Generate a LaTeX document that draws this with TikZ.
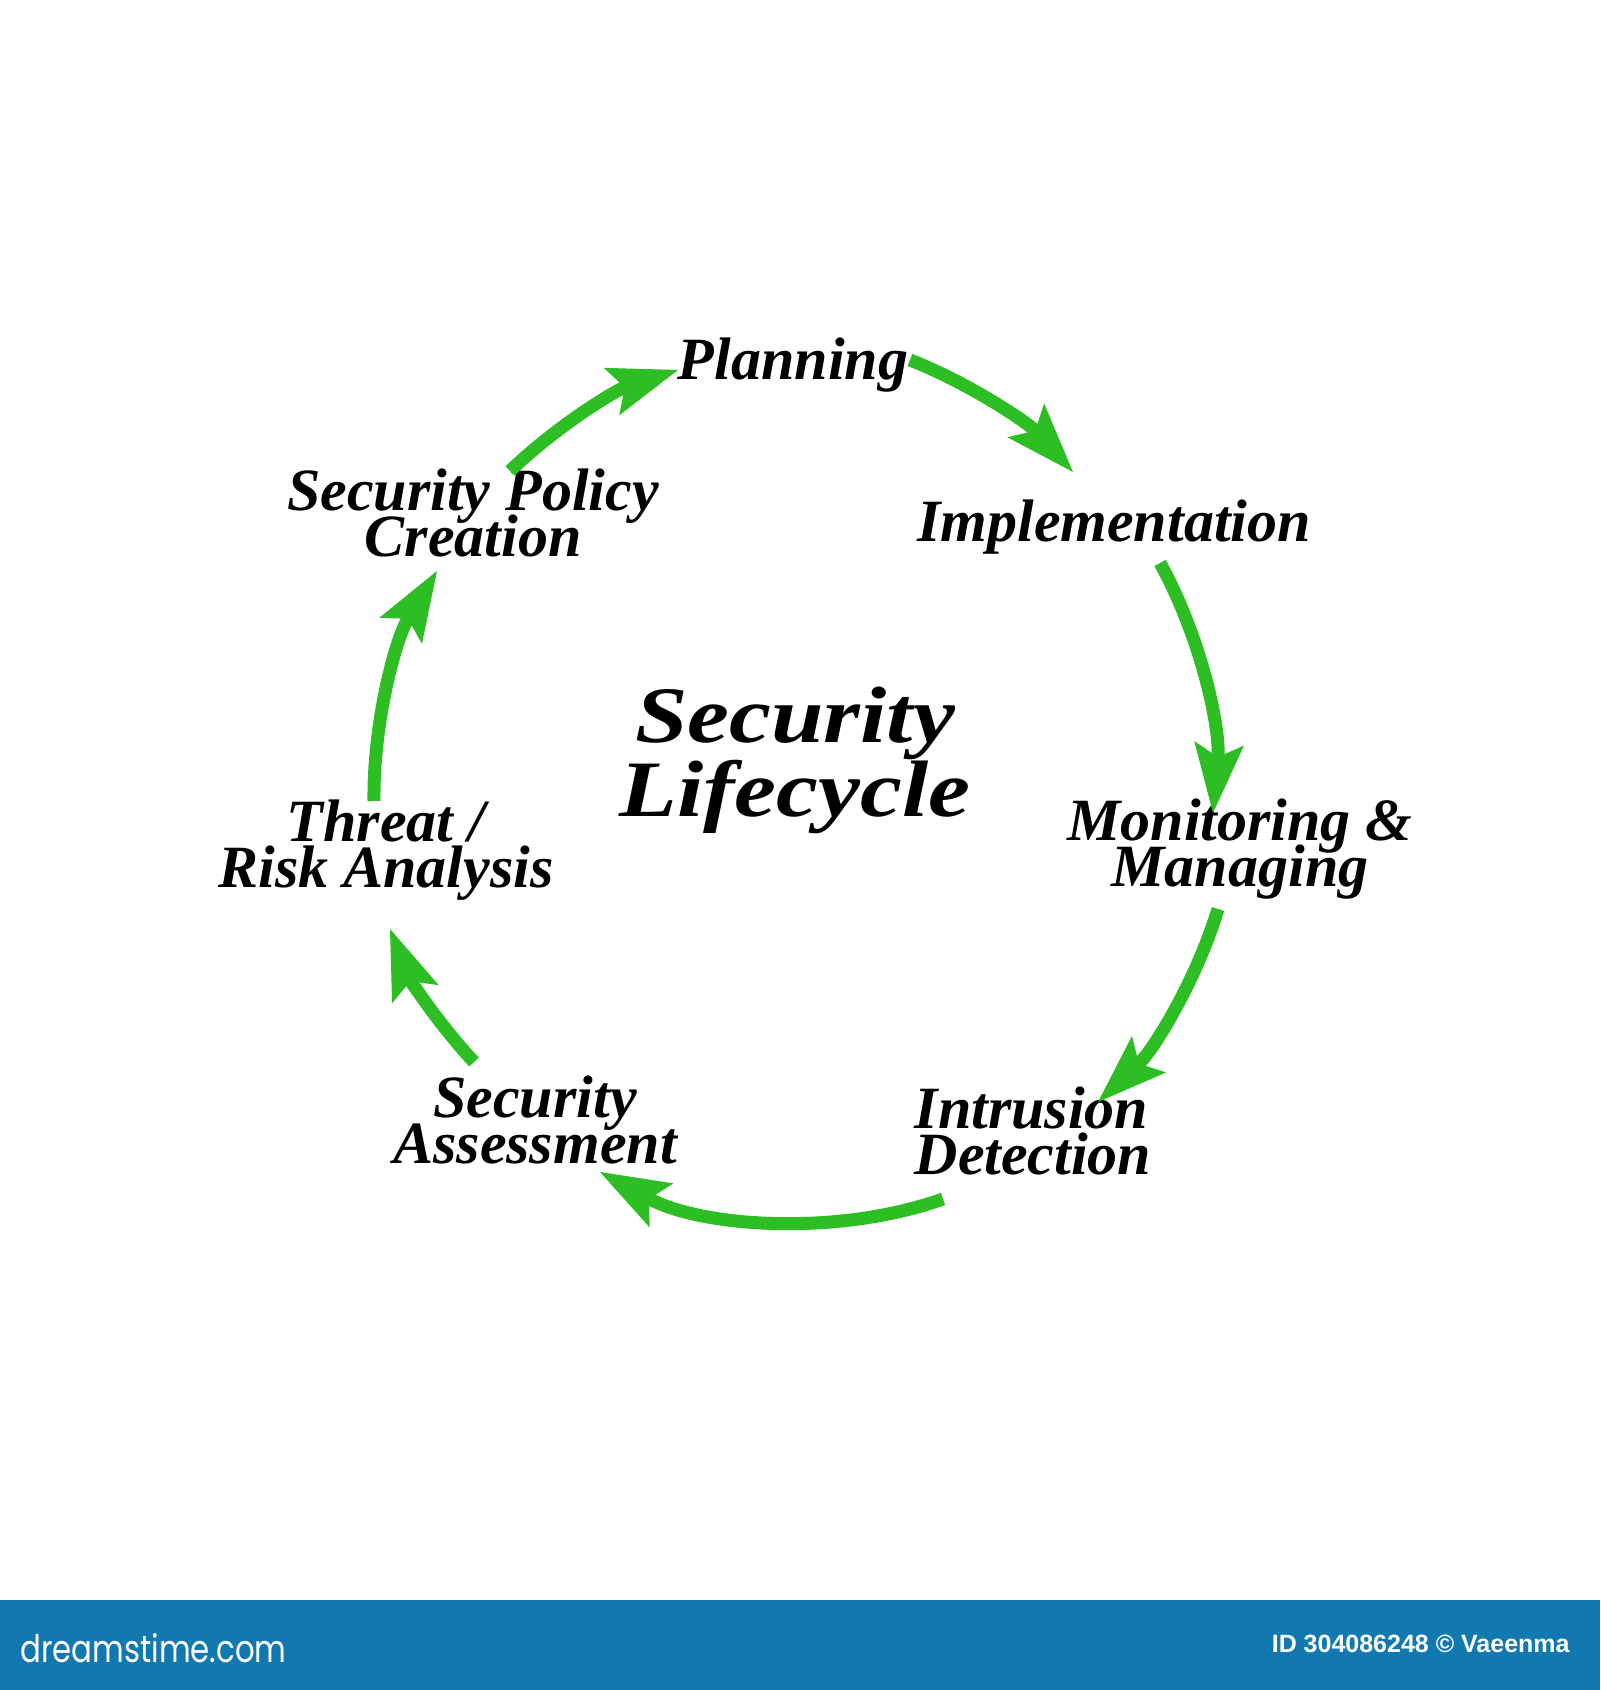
\documentclass[tikz,border=0pt]{standalone}
\usepackage{fontspec}
\setmainfont{Liberation Serif}
\newfontfamily\titlefont[FakeStretch=1.18]{Liberation Serif}
\newfontfamily\dsfont[FakeStretch=0.81]{Poppins}
\newfontfamily\idfont{Liberation Sans}
\usetikzlibrary{arrows.meta}
\definecolor{arrgreen}{RGB}{45,190,35}
\definecolor{barblue}{RGB}{17,121,176}
\newcommand\tightlines{\lineskiplimit=-50pt\relax\lineskip=0pt\relax}
\begin{document}
\begin{tikzpicture}[x=0.5pt,y=0.5pt,
  lab/.style={font={\fontsize{30}{23}\selectfont\bfseries\itshape\tightlines}, inner sep=0pt, align=center, anchor=base},
  arr/.style={draw=arrgreen, line width=6.5pt, looseness=0.85,
    -{Stealth[length=35pt,width=25pt,inset=7pt,line width=0pt]}}
]
\useasboundingbox (0,0) rectangle (1600,1690);
\fill[white] (0,0) rectangle (1600,1690);

% labels (base = baseline of the last line)
\node[lab] (plan) at (793,1310) {Planning};
\node[lab] (impl) at (1114,1148) {Implementation};
\node[lab] (mon)  at (1240,803) {Monitoring \&\\Managing};
\node[lab, align=left] (intr) at (1033,515) {Intrusion\\Detection};
\node[lab] (sass) at (535,526) {Security\\Assessment};
\node[lab] (thr)  at (386,802) {Threat /\\Risk Analysis};
\node[lab] (spc)  at (473,1133) {Security Policy\\Creation};
\node[font={\titlefont\fontsize{40}{37}\selectfont\bfseries\itshape\tightlines}, inner sep=0pt, align=center, anchor=base] (title) at (795,873) {Security\\Lifecycle};

% arrow end points
\coordinate (a1s) at (510,1219); \coordinate (a1e) at (678,1320);
\coordinate (a2s) at (910,1330); \coordinate (a2e) at (1073,1218);
\coordinate (a3s) at (1160,1127); \coordinate (a3e) at (1213,877);
\coordinate (a4s) at (1218,781); \coordinate (a4e) at (1098,588);
\coordinate (a5s) at (943,491); \coordinate (a5e) at (600,518);
\coordinate (a6s) at (474,628); \coordinate (a6e) at (390,761);
\coordinate (a7s) at (374,889); \coordinate (a7e) at (437,1119);

\draw[arr] (a1s) to[bend left=13] (a1e);
\draw[arr] (a2s) to[bend left=13] (a2e);
\draw[arr] (a3s) to[bend left=17] (a3e);
\draw[arr] (a4s) to[bend left=15] (a4e);
\draw[arr] (a5s) to[bend left=24] (a5e);
\draw[arr] (a6s) to[bend left=11] (a6e);
\draw[arr] (a7s) to[bend left=16] (a7e);

% bottom banner
\fill[barblue] (0,0) rectangle (1600,90);
\node[anchor=base west, text=white, font=\dsfont\fontsize{19}{19}\selectfont, inner sep=0pt] (ds) at (20,27) {dreamstime.com};
\node[anchor=base east, text=white, font=\idfont\bfseries\fontsize{12.5}{12.5}\selectfont, inner sep=0pt] (id) at (1570,37) {ID 304086248 © Vaeenma};
\end{tikzpicture}
\end{document}
